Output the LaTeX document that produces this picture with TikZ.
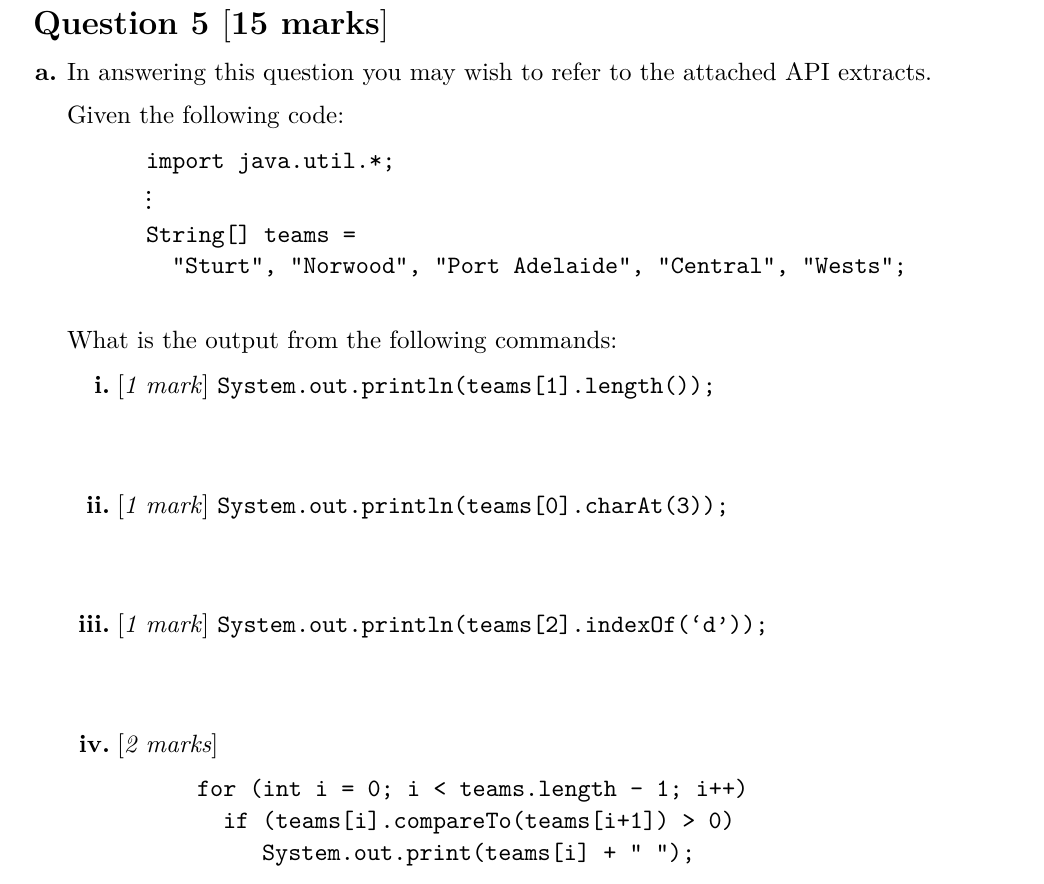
\documentclass[tikz,border=0pt]{standalone}
\usetikzlibrary{positioning}

\begin{document}
\begin{tikzpicture}
    [x=0.4pt,y=-0.4pt,every node/.style={anchor=base west, inner sep=0pt, outer sep=0pt},
     lab/.style={anchor=base east, font=\bfseries}]
  \useasboundingbox (0,0) rectangle (1044,883);

  \node (title) at (33,34) {\fontsize{13.3}{16}\selectfont\bfseries Question 5 {\mdseries[}15 marks{\mdseries]}};
  \node[lab] (qa) at (57,80) {a.};
  \node (intro) at (67,80) {In answering this question you may wish to refer to the attached API extracts.};
  \node (given) at (67,123) {Given the following code:};

  % code block
  \node (imp) at (146,168) {\ttfamily import java.util.*;};
  \node (dots) at (142,209) {\ttfamily\vbox{\baselineskip=3pt\lineskiplimit=-10pt\hbox{.}\hbox{.}\hbox{.}}};
  \node (str) at (146,242) {\ttfamily String[] teams =};
  \node (vals) at (172,273) {\ttfamily "Sturt", "Norwood", "Port Adelaide", "Central", "Wests";};

  \node (what) at (67,348) {What is the output from the following commands:};

  \foreach \n/\lbl/\ypos/\cmd in {1/{i.}/393/{System.out.println(teams[1].length());},
                                  2/{ii.}/513/{System.out.println(teams[0].charAt(3));},
                                  3/{iii.}/632/{System.out.println(teams[2].indexOf(‘d’));}}
    {
    \node[lab] (l\n) at (110,\ypos) {\lbl};
    \node (c\n) at (117,\ypos) {[\textit{1 mark}] \texttt{\cmd}};
    }

  \node[lab] (l4) at (110,752) {iv.};
  \node (c4) at (117,752) {[\textit{2 marks}]};
  \node (for) at (197,796) {\ttfamily for (int i = 0; i < teams.length - 1; i++)};
  \node (if) at (223,828) {\ttfamily if (teams[i].compareTo(teams[i+1]) > 0)};
  \node (prt) at (262,860) {\ttfamily System.out.print(teams[i] + " ");};
\end{tikzpicture}
\end{document}
